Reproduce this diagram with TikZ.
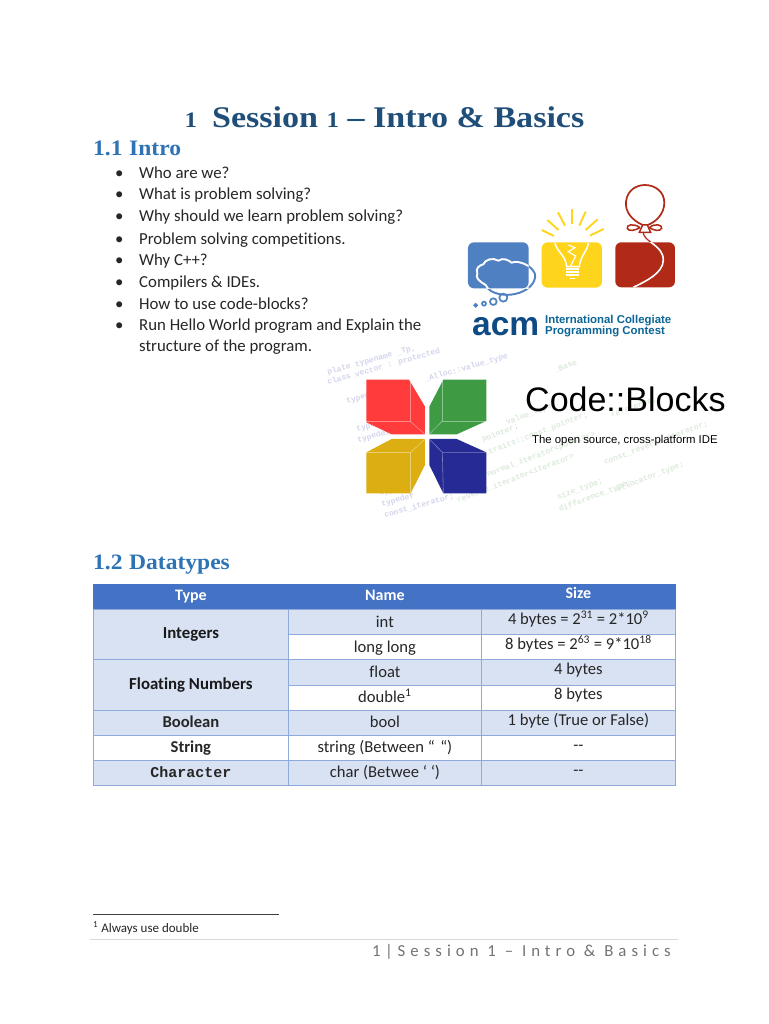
\documentclass[tikz,border=0pt]{standalone}
\usepackage{fontspec}
\usepackage{amsmath}
\usetikzlibrary{matrix}
\usetikzlibrary{fit}
\setmainfont{Carlito}[Ligatures=NoCommon]
\newfontfamily\titlefont[FakeStretch=1.135]{Liberation Serif}
\newfontfamily\headfont[FakeStretch=1.07]{Liberation Serif}
\newfontfamily\logofont{Liberation Sans}
\newfontfamily\codefont{Liberation Mono}
\newfontfamily\pagefont[LetterSpace=30,Ligatures=NoCommon]{Carlito}
\definecolor{titleblue}{HTML}{1F4E79}
\definecolor{subblue}{HTML}{2E74B5}
\definecolor{headblue}{HTML}{4472C4}
\definecolor{rowblue}{HTML}{D9E2F3}
\definecolor{lineblue}{HTML}{8EAADB}
\definecolor{acmblue}{HTML}{4F81C2}
\definecolor{acmyellow}{HTML}{FFD41C}
\definecolor{acmred}{HTML}{B02A17}
\definecolor{acmtext}{HTML}{0E4A84}
\definecolor{cubered}{HTML}{FF3B3B}
\definecolor{cubegreen}{HTML}{3E9B44}
\definecolor{cubeyellow}{HTML}{DDAE12}
\definecolor{cubeblue}{HTML}{262A94}
\definecolor{codeblue}{HTML}{D3D6EC}
\definecolor{codegreen}{HTML}{DCEBDC}
\tikzstyle{bodytext} = [anchor=base west, inner sep=0pt, font=\fontsize{16.8}{16.8}\selectfont, text=black!85]
\tikzstyle{heading} = [anchor=base west, inner sep=0pt, text=subblue, font=\headfont\bfseries\fontsize{22}{22}\selectfont]
\tikzstyle{mergecell} = [draw=lineblue, line width=0.8pt, fill=rowblue, inner sep=0pt, outer sep=0pt]
\tikzstyle{mergelabel} = [inner sep=0pt, text=black!90, font=\bfseries\fontsize{16.8}{16.8}\selectfont]
\tikzstyle{ray} = [acmyellow, line width=1.9pt]
\tikzstyle{cubeline} = [white, opacity=0.4, line width=0.6pt]
\tikzstyle{codeleft} = [inner sep=0pt, rotate=16, anchor=base west, text=codeblue, font=\codefont\bfseries\fontsize{8}{8}\selectfont]
\tikzstyle{coderight} = [inner sep=0pt, rotate=21, anchor=base west, text=codegreen, font=\codefont\bfseries\fontsize{8}{8}\selectfont]

\begin{document}
\begin{tikzpicture}[x=1pt,y=-1pt]
        \useasboundingbox (0,0) rectangle (768,1024);
        \fill[white] (0,0) rectangle (768,1024);

        % Headings
        \node (title) at (384.5,128) [anchor=base, inner sep=0pt, text=titleblue, font=\titlefont\bfseries\fontsize{30}{30}\selectfont] {{\fontsize{22}{22}\selectfont 1}\hspace{0.5em}Session {\fontsize{22}{22}\selectfont 1} – Intro \& Basics};
        \node (intro) at (93,156) [heading] {1.1\hspace{0.3em}Intro};
        \node (types) at (93,569) [heading] {1.2\hspace{0.3em}Datatypes};

        % Bullets
        \foreach \txt/\ypos [count=\i] in {Who are we?/179, What is problem solving?/200, Why should we learn problem solving?/222, Problem solving competitions./244, Why C++?/265, Compilers \& IDEs./287, How to use code-blocks?/309, Run Hello World program and Explain the/330} {
            \node (dot\i) at (115,\ypos) [bodytext] {•};
            \node (item\i) at (139,\ypos) [bodytext] {\txt};
        }
        \node (item9) at (139,351) [bodytext] {structure of the program.};

        % ACM logo
        \begin{scope}[shift={(320,170)},x=0.3333pt,y=-0.3333pt]
            \fill[acmblue, rounded corners=6pt] (444,217) rectangle (626,355);
            \fill[acmyellow, rounded corners=6pt] (665,217) rectangle (846,353);
            \fill[acmred, rounded corners=6pt] (886,217) rectangle (1065,352);
            % cloud
            \def\cloudpath{(497,345) .. controls (480,335) and (465,325) .. (472,310) .. controls (465,295) and (480,285) .. (490,283) .. controls (495,268) and (520,262) .. (535,272) .. controls (550,262) and (565,270) .. (575,278) .. controls (595,270) and (635,285) .. (645,312) .. controls (650,340) and (620,365) .. (585,372) .. controls (560,378) and (510,375) .. (497,345)}
            \draw[acmblue, line width=1.9pt] \cloudpath;
            \begin{scope}
                \clip (444,217) rectangle (626,355);
                \draw[white, line width=1.9pt] \cloudpath;
            \end{scope}
            \foreach \cx/\cy/\cr in {550/383/12, 520/395/10, 492/401/6, 467/406/4} {
                \draw[acmblue, line width=1.7pt] (\cx,\cy) circle[radius=\cr];
            }
            % bulb
            \draw[white, line width=1.5pt] (705,219) .. controls (710,245) and (737,255) .. (740,290) -- (778,290) .. controls (782,255) and (802,245) .. (805,219);
            \draw[white, line width=1.2pt] (745,225) -- (765,233) -- (745,245) -- (767,258) -- (752,288);
            \foreach \ly in {297,306,315} {
                \draw[white, line width=1.2pt] (738,\ly) -- (778,\ly);
            }
            \draw[white, line width=1.4pt] (750,325) -- (766,325);
            \draw[ray] (665,180) -- (702,198);
            \draw[ray] (682,150) -- (716,180);
            \draw[ray] (714,127) -- (735,167);
            \draw[ray] (755,117) -- (755,163);
            \draw[ray] (797,125) -- (778,167);
            \draw[ray] (833,148) -- (797,180);
            \draw[ray] (851,177) -- (810,197);
            % balloon
            \draw[acmred, line width=1.7pt] (968,165) .. controls (935,150) and (915,125) .. (918,95) .. controls (922,60) and (950,45) .. (975,45) .. controls (1005,45) and (1033,65) .. (1033,98) .. controls (1033,130) and (1010,155) .. (983,165);
            \draw[acmred, line width=1.5pt] (958,187) -- (992,187) -- (982,165) -- (968,165) -- cycle;
            \draw[acmred, line width=1.5pt] (960,173) .. controls (940,158) and (918,165) .. (922,175) .. controls (925,185) and (945,182) .. (960,173);
            \draw[acmred, line width=1.5pt] (988,173) .. controls (1005,158) and (1028,165) .. (1025,175) .. controls (1020,185) and (1003,182) .. (988,173);
            \def\stringpath{(970,188) .. controls (970,215) and (1030,225) .. (1030,270) .. controls (1030,310) and (975,335) .. (940,352)}
            \draw[acmred, line width=1.2pt] \stringpath;
            \begin{scope}
                \clip (886,217) rectangle (1065,352);
                \draw[white, line width=1.6pt] \stringpath;
            \end{scope}
        \end{scope}
        \node (acm) at (472,335) [anchor=base west, inner sep=0pt, text=acmtext, font=\logofont\bfseries\fontsize{33.5}{33.5}\selectfont] {acm};
        \node (icpc1) at (545,323.5) [anchor=base west, inner sep=0pt, text=acmtext!85!cyan, font=\logofont\bfseries\fontsize{11.4}{11.4}\selectfont] {International Collegiate};
        \node (icpc2) at (545,334) [anchor=base west, inner sep=0pt, text=acmtext!85!cyan, font=\logofont\bfseries\fontsize{11.4}{11.4}\selectfont] {Programming Contest};

        % Code::Blocks logo
        \node (code1) at (328,375) [codeleft] {plate typename \_Tp,};
        \node (code2) at (328,385) [codeleft] {class vector : protected};
        \node (code3) at (425,382) [codeleft] {\_Alloc::value\_type};
        \node (code4) at (347,404) [codeleft] {typedef};
        \node (code5) at (357,432) [codeleft] {typedef};
        \node (code6) at (358,443) [codeleft] {typedef};
        \node (code7) at (380,496) [codeleft] {typedef};
        \node (code8) at (382,507) [codeleft] {typedef};
        \node (code9) at (385,518) [codeleft] {const\_iterator;};
        \node (code10) at (555,373) [coderight] {\_Base};
        \node (code11) at (507,425) [coderight] {value\_type;};
        \node (code12) at (483,442) [coderight] {pointer;};
        \node (code13) at (612,418) [coderight] {reference;};
        \node (code14) at (485,456) [coderight] {\_traits::const\_pointer;};
        \node (code15) at (488,477) [coderight] {normal\_iterator<pointer>};
        \node (code16) at (605,465) [coderight] {const\_reverse\_iterator;};
        \node (code17) at (458,503) [coderight] {reverse\_iterator<iterator>};
        \node (code18) at (558,500) [coderight] {size\_type;};
        \node (code19) at (560,512) [coderight] {difference\_type;};
        \node (code20) at (617,492) [coderight] {allocator\_type;};
        \begin{scope}[shift={(320,345)},x=0.3333pt,y=-0.3333pt]
            \fill[cubered] (139,104) -- (267,104) -- (315,185) -- (315,268) -- (215,268) -- (139,232) -- cycle;
            \fill[cubegreen] (370,104) -- (499,104) -- (499,228) -- (410,268) -- (328,268) -- (328,185) -- cycle;
            \fill[cubeyellow] (139,322) -- (215,282) -- (315,282) -- (315,360) -- (272,445) -- (139,445) -- cycle;
            \fill[cubeblue] (328,282) -- (410,282) -- (499,322) -- (499,445) -- (370,445) -- (328,360) -- cycle;
            \draw[cubeline] (272,104) -- (272,230) -- (139,230);
            \draw[cubeline] (272,230) -- (315,268);
            \draw[cubeline] (367,104) -- (367,228) -- (499,228);
            \draw[cubeline] (367,228) -- (328,268);
            \draw[cubeline] (139,322) -- (272,322) -- (272,445);
            \draw[cubeline] (272,322) -- (315,282);
            \draw[cubeline] (370,445) -- (367,322) -- (499,322);
            \draw[cubeline] (367,322) -- (328,282);
        \end{scope}
        \node (cbname) at (525,411) [anchor=base west, inner sep=0pt, font=\logofont\fontsize{34}{34}\selectfont] {Code::Blocks};
        \node (cbsub) at (532,443) [anchor=base west, inner sep=0pt, font=\logofont\fontsize{11.35}{11.35}\selectfont] {The open source, cross-platform IDE};

        % Datatypes table
        \matrix (m2) at (93,584) [matrix of nodes, matrix anchor=north west, inner sep=0pt, outer sep=0pt, nodes in empty cells, column sep=-0.8pt, row sep=-0.8pt,
            nodes={draw=lineblue, line width=0.8pt, inner sep=0pt, outer sep=0pt, anchor=center, minimum height=25.125pt, text height=17.5pt, text depth=7.625pt, font=\fontsize{16.6}{16.6}\selectfont, text=black!85},
            column 1/.style={nodes={minimum width=195pt, font=\bfseries\fontsize{16.6}{16.6}\selectfont}},
            column 2/.style={nodes={minimum width=193pt}},
            column 3/.style={nodes={minimum width=194pt, text height=15pt, text depth=10.125pt}},
            row 1/.style={nodes={fill=headblue, draw=headblue, text=white, font=\bfseries\fontsize{16}{16}\selectfont, text height=16pt, text depth=9.125pt}},
            row 1 column 3/.style={nodes={text height=14.5pt, text depth=10.625pt}},
            row 2/.style={nodes={fill=rowblue}},
            row 4/.style={nodes={fill=rowblue}},
            row 6/.style={nodes={fill=rowblue}},
            row 8/.style={nodes={fill=rowblue}}] {
            Type & Name & Size \\
            & int & 4 bytes = 2\textsuperscript{31} = 2*10\textsuperscript{9} \\
            & long long & 8 bytes = 2\textsuperscript{63} = 9*10\textsuperscript{18} \\
            & float & 4 bytes \\
            & double\textsuperscript{1} & 8 bytes \\
            Boolean & bool & 1 byte (True or False) \\
            String & string (Between “\,\,“) & -{}- \\
            |[font=\codefont\bfseries\fontsize{15}{15}\selectfont]| Character & char (Betwee ‘ ‘) & -{}- \\
        };
        \node (integers) [mergecell, fit=(m2-2-1)(m2-3-1)] {};
        \node (floating) [mergecell, fit=(m2-4-1)(m2-5-1)] {};
        \node (intlabel) at (integers.center) [mergelabel] {Integers};
        \node (floatlabel) at (floating.center) [mergelabel] {Floating Numbers};

        % Footnote and footer
        \draw[black!75, line width=0.9pt] (93,914) coordinate (ruleL) -- (279,914) coordinate (ruleR);
        \node (note) at (93,932) [anchor=base west, inner sep=0pt, text=black!85, font=\fontsize{13}{13}\selectfont] {\textsuperscript{1} Always use double};
        \draw[black!15, line width=0.8pt] (90,939) coordinate (footL) -- (678,939) coordinate (footR);
        \node (pageno) at (671,956) [anchor=base east, inner sep=0pt, text=black!55, font=\fontsize{16.8}{16.8}\selectfont] {1\;|\;{\pagefont Session 1 – Intro \& Basics}};
\end{tikzpicture}
\end{document}
